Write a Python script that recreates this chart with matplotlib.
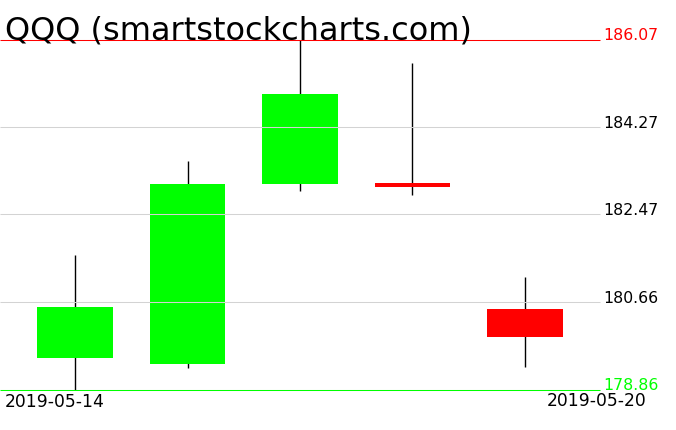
import matplotlib.pyplot as plt
import numpy as np

title = 'QQQ (smartstockcharts.com)'
dates = ['2019-05-14', '2019-05-15', '2019-05-16', '2019-05-17', '2019-05-20']
opens = [179.51, 179.38, 183.09, 183.11, 180.51]
closes = [180.55, 183.09, 184.94, 183.03, 179.94]
highs = [181.63, 183.56, 186.07, 185.59, 181.17]
lows = [178.86, 179.30, 182.95, 182.87, 179.33]
price_ticks = [178.86, 180.66, 182.47, 184.27, 186.07]
tick_labels = ['178.86', '180.66', '182.47', '184.27', '186.07']

W, H = 676, 431
fig = plt.figure(figsize=(W / 100, H / 100), dpi=100)
# offset by half a pixel so the 1px lines sit on pixel centres
ax = fig.add_axes([0, (H - 390.5) / H, 600 / W, 350 / H])
ax.set_xlim(-0.667, 4.667)
ax.set_ylim(min(lows), max(highs))
ax.axis('off')

x = np.arange(len(dates))
width = 0.67
for i in x:
    color = '#00ff00' if closes[i] >= opens[i] else '#ff0000'
    ax.vlines(i, lows[i], highs[i], color='black', lw=1.0, zorder=1, clip_on=False)
    bottom = min(opens[i], closes[i])
    ax.bar(i, abs(closes[i] - opens[i]), width, bottom=bottom, color=color,
           zorder=2, antialiased=False)

# horizontal lines with labels on the right
for p, lab in zip(price_ticks, tick_labels):
    if p == max(highs):
        c, lc = '#ff0000', '#ff0000'
    elif p == min(lows):
        c, lc = '#00ff00', '#00ff00'
    else:
        c, lc = 'black', '#d3d3d3'
    ax.plot([-0.667, 4.667], [p, p], color=lc, lw=0.75, zorder=3, clip_on=False,
            solid_capstyle='butt')
    ax.text(1.006, p, lab, transform=ax.get_yaxis_transform(), color=c,
            fontsize=11.3, va='baseline', ha='left', clip_on=False)

fig.text(5 / W, 1 - 40 / H, title, fontsize=23, color='black', va='baseline', ha='left')
fig.text(5 / W, 1 - 407 / H, dates[0], fontsize=12.3, va='baseline', ha='left')
fig.text(646 / W, 1 - 406 / H, dates[-1], fontsize=12.3, va='baseline', ha='right')

fig.savefig('out.png', dpi=100, facecolor='white')
